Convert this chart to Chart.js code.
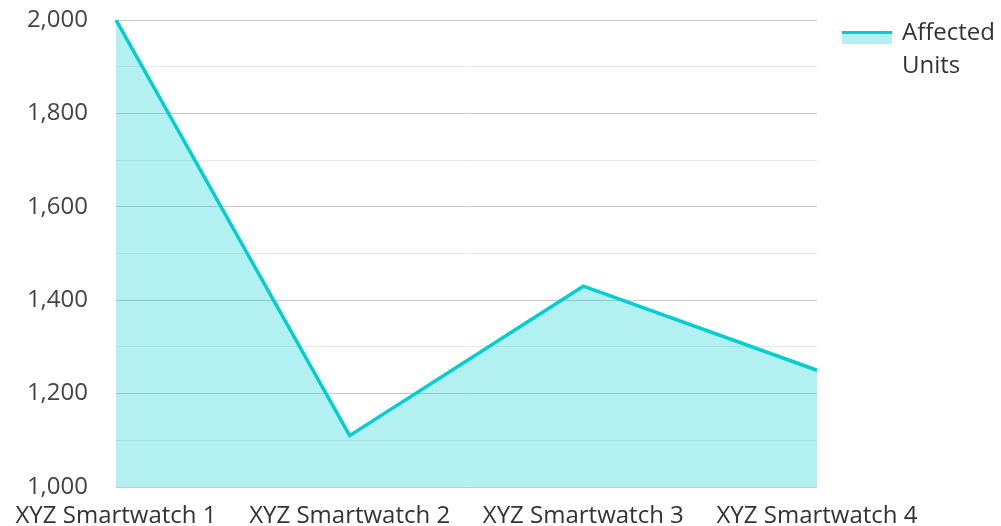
<!DOCTYPE html>
<html>
<head>
<meta charset="utf-8">
<script src="https://cdn.jsdelivr.net/npm/chart.js@4"></script>
<style>
  body { margin: 0; background: #fff; }
  #wrap { position: relative; width: 1001px; height: 526px; }
  #legend { position: absolute; left: 842px; top: 14px; font-family: "Open Sans"; font-size: 24px; color: #333; line-height: 33px; }
  #legend .box { position: absolute; left: 0; top: 17px; width: 50px; height: 10px; background: rgba(0,206,209,0.3); border-top: 3px solid #00ced1; }
  #legend .txt { position: absolute; left: 60px; top: 0; white-space: nowrap; }
</style>
</head>
<body>
<div id="wrap">
  <canvas id="chart" width="1001" height="526"></canvas>
  <div id="legend"><div class="box"></div><div class="txt">Affected<br>Units</div></div>
</div>
<script>
var labels = ["XYZ Smartwatch 1", "XYZ Smartwatch 2", "XYZ Smartwatch 3", "XYZ Smartwatch 4"];
var affectedUnits = [2000, 1110, 1430, 1250];
var yMin = 1000;
var yMax = 2000;

window.onload = function () {
    var ctx = document.getElementById('chart');
    new Chart(ctx, {
        type: "line",
        data: {
            labels: labels,
            datasets: [{
                label: "Affected Units",
                data: affectedUnits,
                fill: 'start',
                tension: 0,
                borderWidth: 3.5,
                borderColor: '#00ced1',
                backgroundColor: 'rgba(0,206,209,0.3)',
                pointRadius: 0
            }]
        },
        options: {
            responsive: false,
            animation: false,
            layout: { padding: { top: 20, right: 184, bottom: 0, left: 0 } },
            plugins: {
                legend: { display: false },
                tooltip: { enabled: false }
            },
            scales: {
                x: {
                    offset: false,
                    grid: { display: false },
                    border: { display: false },
                    afterFit: function (s) {
                        s.height = 39;
                        s.paddingLeft = 0;
                        s.paddingRight = 0;
                    },
                    ticks: {
                        color: '#333',
                        padding: 9,
                        maxRotation: 0,
                        autoSkip: false,
                        font: { family: "Open Sans", size: 24, lineHeight: 1 }
                    }
                },
                y: {
                    min: yMin,
                    max: yMax,
                    border: { display: false },
                    afterFit: function (s) {
                        s.width = 116;
                        s.paddingTop = 0;
                        s.paddingBottom = 0;
                    },
                    grid: {
                        drawTicks: false,
                        color: function (c) {
                            return c.tick && c.tick.value % 200 === 0 ? '#c8c8c8' : '#e8e8e8';
                        }
                    },
                    ticks: {
                        stepSize: 100,
                        padding: 28,
                        color: '#444',
                        font: { family: "Open Sans", size: 24 },
                        callback: function (v) {
                            return v % 200 === 0 ? v.toLocaleString('en-US') : '';
                        }
                    }
                }
            }
        }
    });
};
</script>
</body>
</html>
